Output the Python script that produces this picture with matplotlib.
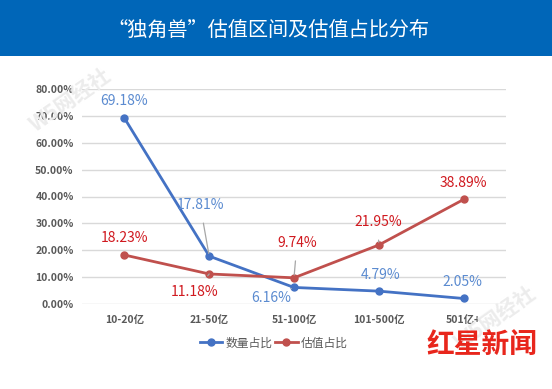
import matplotlib
matplotlib.use("Agg")
import matplotlib.pyplot as plt
from matplotlib.patches import Rectangle

plt.rcParams['font.family'] = ['Noto Sans CJK SC', 'DejaVu Sans']

categories = ['10-20亿', '21-50亿', '51-100亿', '101-500亿', '501亿+']
count_share = [69.18, 17.81, 6.16, 4.79, 2.05]
value_share = [18.23, 11.18, 9.74, 21.95, 38.89]
yticks = [0, 10, 20, 30, 40, 50, 60, 70, 80]

blue = '#4472c4'
red = '#c0504d'
blue_txt = '#5b8bd0'
red_txt = '#d0191f'
gray_txt = '#595959'

fig = plt.figure(figsize=(5.52, 3.89), dpi=100)
fig.patch.set_facecolor('white')

# title band
fig.patches.append(Rectangle((0, 1 - 56 / 389), 1, 56 / 389, transform=fig.transFigure,
                             facecolor='#0066b8', edgecolor='none', zorder=0))
fig.text(268 / 552, 1 - 30 / 389, '“独角兽”估值区间及估值占比分布', color='white',
         fontsize=14.5, ha='center', va='center')

# faint watermarks behind the chart
fig.text(70 / 552, 1 - 100 / 389, 'W5网经社', color='#ececec', fontsize=15, rotation=35,
         ha='center', va='center', fontweight='bold', zorder=0)
fig.text(495 / 552, 1 - 318 / 389, 'W5网经社', color='#ececec', fontsize=15, rotation=35,
         ha='center', va='center', fontweight='bold', zorder=0)

ax = fig.add_axes([82 / 552, 1 - 304 / 389, 424 / 552, 215 / 389])
ax.patch.set_alpha(0)
x = list(range(len(categories)))
ax.plot(x, count_share, color=blue, lw=2, marker='o', ms=5, label='数量占比', zorder=3)
ax.plot(x, value_share, color=red, lw=2, marker='o', ms=5, label='估值占比', zorder=3)

ax.set_xlim(-0.5, len(categories) - 0.5)
ax.set_ylim(0, 80)
ax.set_yticks(yticks)
ax.set_yticklabels([f'{v:.2f}%' for v in yticks], color=gray_txt, fontsize=7.5, fontweight='bold')
ax.set_xticks(x)
ax.set_xticklabels(categories, color=gray_txt, fontsize=7.5, fontweight='bold')
ax.tick_params(length=0, pad=6)
ax.tick_params(axis='x', pad=8)
for s in ax.spines.values():
    s.set_visible(False)
ax.grid(axis='y', color='#d9d9d9', lw=1)
ax.set_axisbelow(True)

# data labels: (dx, dy) offset in pixels (dy up), leader line flag
blue_off = [(0, 17, False), (-9, 51, True), (-23, -11, True), (2, 16, False), (-1, 16, False)]
red_off = [(0, 17, False), (-15, -18, True), (3, 35, True), (-1, 23, True), (0, 16, False)]
for series, offs, col in [(count_share, blue_off, blue_txt), (value_share, red_off, red_txt)]:
    for i, (v, (dx, dy, lead)) in enumerate(zip(series, offs)):
        ap = dict(arrowstyle='-', color='#a6a6a6', lw=0.9, shrinkA=6, shrinkB=2) if lead else None
        ax.annotate(f'{v:.2f}%', (i, v), xytext=(dx, dy), textcoords='offset pixels',
                    ha='center', va='center', color=col, fontsize=10, arrowprops=ap)

leg = fig.legend(loc='center', bbox_to_anchor=(274 / 552, 1 - 343 / 389), ncol=2, frameon=False,
                 fontsize=8.5, handlelength=1.9, columnspacing=0.2, handletextpad=0.3)
for t in leg.get_texts():
    t.set_color(gray_txt)

fig.text(482 / 552, 1 - 345 / 389, '红星新闻', color='#e8261c', fontsize=20,
         ha='center', va='center', fontweight='bold')

fig.savefig('out.png', dpi=100)
